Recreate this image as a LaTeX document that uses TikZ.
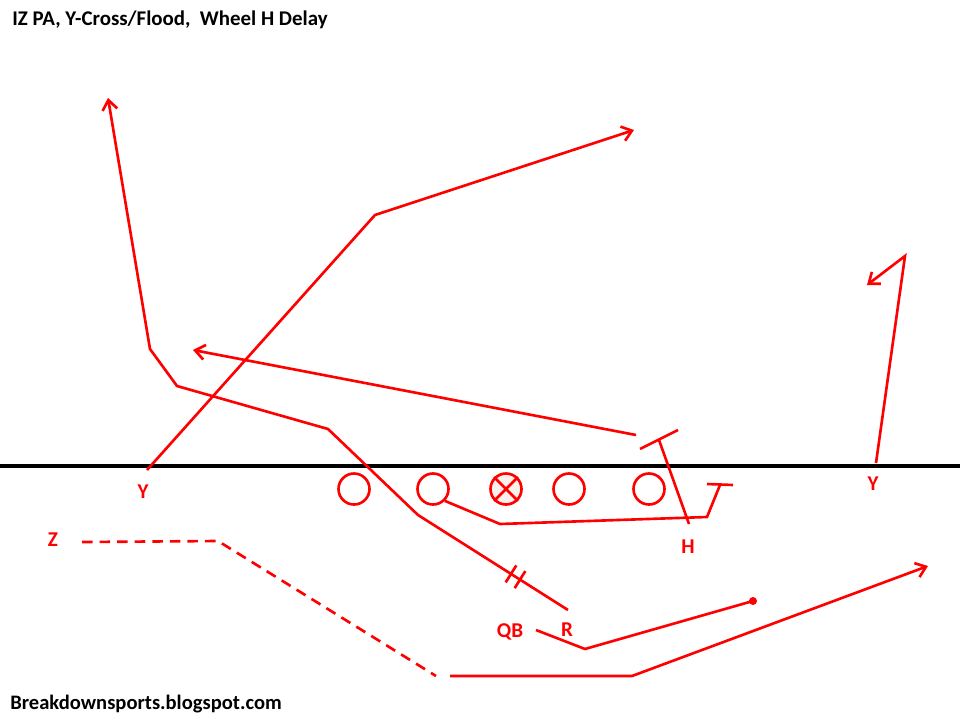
\documentclass[tikz,border=0pt]{standalone}
\usepackage{fontspec}
\setmainfont{Carlito}
\usetikzlibrary{arrows,arrows.meta,calc}

\begin{document}
\begin{tikzpicture}[x=0.02cm,y=-0.02cm,
    >={Straight Barb[length=5.5pt,width=8.5pt]},
    route/.style={red, line width=1.5pt},
    lineman/.style={circle, draw=red, line width=1.5pt, minimum size=0.62cm, inner sep=0pt},
    tag/.style={text=red, font=\bfseries\fontsize{12}{14}\selectfont}]
       \useasboundingbox (0,0) rectangle (960,720);
       % titles
       \node[anchor=base west, inner sep=0pt, font=\bfseries\fontsize{11.9}{14}\selectfont] (title) at (12,26) {IZ PA, Y-Cross/Flood,\ \ Wheel H Delay};
       \node[anchor=base west, inner sep=0pt, font=\bfseries\fontsize{11.7}{14}\selectfont] (blog) at (10,709) {Breakdownsports.blogspot.com};
       % line of scrimmage
       \coordinate (los1) at (0,466);
       \coordinate (los2) at (960,466);
       \draw[black, line width=1.9pt] (los1) -- (los2);
       % line
       \node[lineman] (lt) at (354,489) {};
       \node[lineman] (lg) at (433,489) {};
       \node[lineman, fill=brown!10] (c) at (506,489) {};
       \draw[red, line width=1.5pt] (c.45) -- (c.-135) (c.135) -- (c.-45);
       \node[lineman] (rg) at (569,489) {};
       \node[lineman] (rt) at (649,489) {};
       % labels
       \node[tag] (yl) at (143,492) {Y};
       \node[tag] (yr) at (873,484) {Y};
       \node[tag] (h) at (688,547) {H};
       \node[tag] (z) at (53,540) {Z};
       \node[tag] (qb) at (510,632) {QB};
       \node[tag] (r) at (567,630) {R};
       % Y left: cross
       \coordinate (y1) at (147,470);
       \coordinate (y2) at (375,215);
       \coordinate (y3) at (634,130);
       \draw[route, ->] (y1) -- (y2) -- (y3);
       % R: wheel
       \coordinate (r1) at (568,610);
       \coordinate (r2) at (418,515);
       \coordinate (r3) at (328,429);
       \coordinate (r4) at (177,386);
       \coordinate (r5) at (150,349);
       \coordinate (r6) at (108,98);
       \draw[route, ->] (r1) -- (r2) -- (r3) -- (r4) -- (r5) -- (r6);
       \draw[route] ($(r2)!0.62!(r1)$) ++(-5.3,8.5) -- ++(10.6,-17);
       \draw[route] ($(r2)!0.68!(r1)$) ++(-5.3,8.5) -- ++(10.6,-17);
       % H: delay block
       \coordinate (h1) at (689,524);
       \coordinate (h2) at (659,440);
       \draw[route] (h1) -- (h2);
       \draw[route] (640,449) -- (678,430);
       % drag
       \coordinate (d1) at (636,435);
       \coordinate (d2) at (193,350);
       \draw[route, ->] (d1) -- (d2);
       % pulling guard
       \coordinate (g1) at (500,524);
       \coordinate (g2) at (707,517);
       \coordinate (g3) at (720,485);
       \draw[route] (lg.-45) -- (g1) -- (g2) -- (g3);
       \draw[route] (707,484) -- (733,485);
       % QB: boot
       \coordinate (q1) at (536,630);
       \coordinate (q2) at (585,649);
       \coordinate (q3) at (753,601);
       \draw[route] (q1) -- (q2) -- (q3);
       \fill[red] (q3) circle (4);
       % Z: motion and flat
       \coordinate (z1) at (82,542);
       \coordinate (z2) at (218,541);
       \coordinate (z3) at (436,676);
       \coordinate (z4) at (450,676);
       \coordinate (z5) at (632,676);
       \coordinate (z6) at (928,566);
       \draw[route, dash pattern=on 6pt off 4pt] (z1) -- (z2) -- (z3);
       \draw[route, ->] (z4) -- (z5) -- (z6);
       % Y right: corner
       \coordinate (w1) at (876,463);
       \coordinate (w2) at (905,256);
       \coordinate (w3) at (867,285);
       \draw[route, ->] (w1) -- (w2) -- (w3);
      \end{tikzpicture}
\end{document}
